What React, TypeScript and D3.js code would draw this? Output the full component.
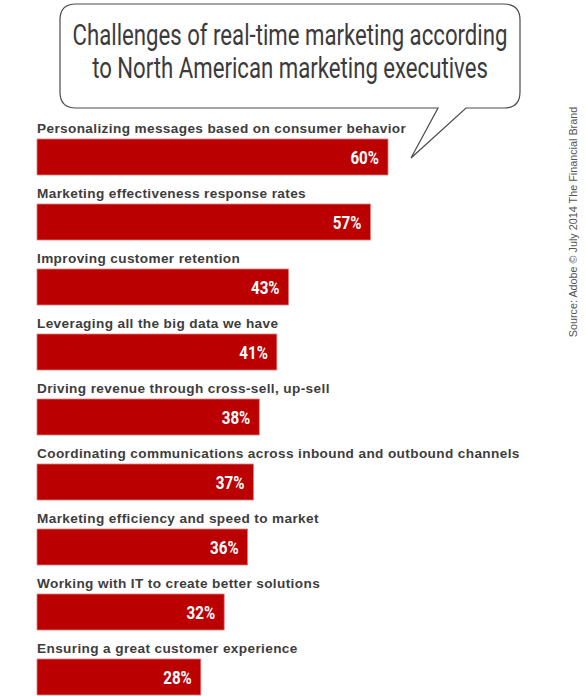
import { useEffect, useRef } from 'react'
import * as d3 from 'd3'

const categories = [
	'Personalizing messages based on consumer behavior',
	'Marketing effectiveness response rates',
	'Improving customer retention',
	'Leveraging all the big data we have',
	'Driving revenue through cross-sell, up-sell',
	'Coordinating communications across inbound and outbound channels',
	'Marketing efficiency and speed to market',
	'Working with IT to create better solutions',
	'Ensuring a great customer experience',
]
const values = [60, 57, 43, 41, 38, 37, 36, 32, 28]
const titleLines = ['Challenges of real-time marketing according', 'to North American marketing executives']
const source = 'Source: Adobe © July 2014 The Financial Brand'

const App = () => {
	const svgRef = useRef(null)

	useEffect(() => {
		const width = 586
		const height = 696
		const svg = d3.select(svgRef.current)
		svg.selectAll('*').remove()
		svg.attr('width', width).attr('height', height)

		svg.append('rect').attr('width', width).attr('height', height).attr('fill', '#ffffff')

		// Speech bubble with title
		const bx0 = 60, bx1 = 520, by0 = 4, by1 = 108, r = 16
		const bubble = d3.path()
		bubble.moveTo(bx0 + r, by0)
		bubble.lineTo(bx1 - r, by0)
		bubble.quadraticCurveTo(bx1, by0, bx1, by0 + r)
		bubble.lineTo(bx1, by1 - r)
		bubble.quadraticCurveTo(bx1, by1, bx1 - r, by1)
		bubble.lineTo(466, by1)
		bubble.lineTo(411, 158)
		bubble.lineTo(438, by1)
		bubble.lineTo(bx0 + r, by1)
		bubble.quadraticCurveTo(bx0, by1, bx0, by1 - r)
		bubble.lineTo(bx0, by0 + r)
		bubble.quadraticCurveTo(bx0, by0, bx0 + r, by0)
		bubble.closePath()
		svg
			.append('path')
			.attr('d', bubble.toString())
			.attr('fill', '#ffffff')
			.attr('stroke', '#4a4a4a')
			.attr('stroke-width', 1.2)

		// condensed look via horizontal squeeze
		svg
			.selectAll('text.title')
			.data(titleLines)
			.enter()
			.append('text')
			.attr('class', 'title')
			.attr('transform', (d, i) => `translate(290,${45 + i * 33}) scale(0.765,1)`)
			.attr('text-anchor', 'middle')
			.style('font-family', 'Roboto, "Liberation Sans", sans-serif')
			.style('font-size', '29px')
			.style('fill', '#3b3b3b')
			.text((d) => d)

		// Scales
		const x = d3.scaleLinear().domain([0, 60]).range([0, 351])
		const y = d3.scaleBand().domain(categories).range([117, 117 + 65 * categories.length])
		const left = 37

		const rows = svg
			.selectAll('g.row')
			.data(categories)
			.enter()
			.append('g')
			.attr('class', 'row')
			.attr('transform', (d) => `translate(${left},${y(d)})`)

		rows
			.append('text')
			.attr('x', 0)
			.attr('y', 16)
			.style('font-family', '"Liberation Sans", Arial, sans-serif')
			.style('font-weight', 'bold')
			.style('font-size', '13.6px')
			.style('letter-spacing', '0.38px')
			.style('fill', '#3d3d3d')
			.text((d) => d)

		rows
			.append('rect')
			.attr('x', 0)
			.attr('y', 22)
			.attr('width', (d, i) => x(values[i]))
			.attr('height', 36)
			.attr('fill', '#bb0000')
			.attr('stroke', '#d98080')
			.attr('stroke-width', 0.8)

		rows
			.append('text')
			.attr('transform', (d, i) => `translate(${x(values[i]) - 9},${47}) scale(0.82,1)`)
			.attr('text-anchor', 'end')
			.style('font-family', 'Roboto, "Liberation Sans", sans-serif')
			.style('font-weight', 'bold')
			.style('font-size', '18.5px')
			.style('fill', '#ffffff')
			.text((d, i) => `${values[i]}%`)

		// Source, rotated on the right
		svg
			.append('text')
			.attr('transform', `translate(577,${222}) rotate(-90)`)
			.attr('text-anchor', 'middle')
			.style('font-family', '"Liberation Sans", Arial, sans-serif')
			.style('font-size', '10.8px')
			.style('fill', '#555555')
			.text(source)
	}, [])

	return <svg ref={svgRef} style={{ position: 'absolute', left: 0, top: 0 }}></svg>
}

export default App
